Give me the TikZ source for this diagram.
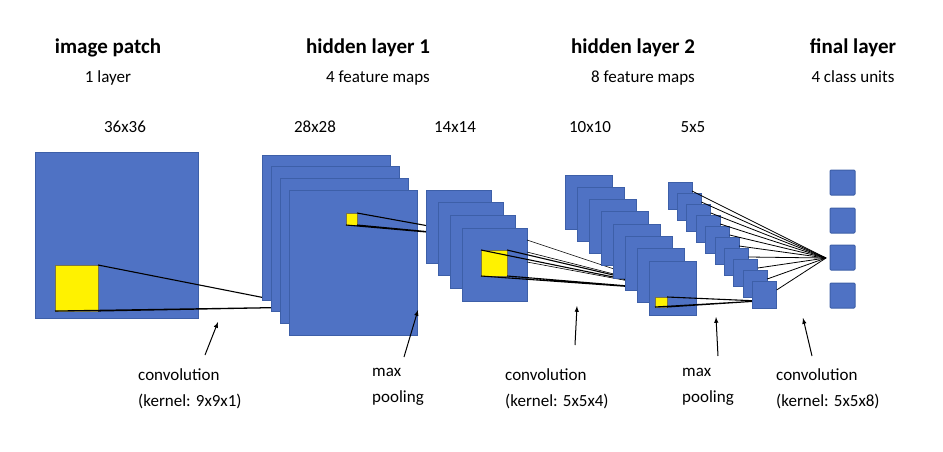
\documentclass[tikz,border=0pt]{standalone}
\usepackage{fontspec}
\setmainfont{Carlito}
\begin{document}
\begin{tikzpicture}[x=1pt,y=-1pt,
  fm/.style={fill=fmblue,draw=fmedge,line width=1pt},
  yl/.style={fill=yellow,draw=black!60!yellow,line width=0.8pt},
  cl/.style={line width=1.1pt,black},
  ttl/.style={font=\bfseries\fontsize{21}{24}\selectfont,anchor=base},
  txt/.style={font=\fontsize{17}{20}\selectfont,anchor=base},
  lbl/.style={font=\fontsize{17}{26}\selectfont,align=left,anchor=north west,inner sep=0pt},
  arr/.style={-latex,line width=1pt}]
\definecolor{fmblue}{HTML}{4F72C4}
\definecolor{fmedge}{HTML}{3D5FA8}
\useasboundingbox (0,0) rectangle (943,452);
% titles
\node[ttl] (t1) at (108,54) {image patch};
\node[ttl] (t2) at (368,54) {hidden layer 1};
\node[ttl] (t3) at (633,54) {hidden layer 2};
\node[ttl] (t4) at (853,54) {final layer};
\node[txt] (s1) at (108,83) {1 layer};
\node[txt] (s2) at (378,83) {4 feature maps};
\node[txt] (s3) at (643,83) {8 feature maps};
\node[txt] (s4) at (853,83) {4 class units};
\node[txt] (z1) at (125,132) {36x36};
\node[txt] (z2) at (315,132) {28x28};
\node[txt] (z3) at (455,132) {14x14};
\node[txt] (z4) at (590,132) {10x10};
\node[txt] (z5) at (693,132) {5x5};
% image patch
\draw[fm] (35,152) rectangle (198,318);
\draw[yl] (55,265) rectangle (98,311);
\coordinate (p1) at (311,307);
\draw[cl] (98,265) -- (p1) (98,311) -- (p1) (55,311) -- (p1);
% hidden 1: 28x28
\foreach \i in {0,...,3}
  \draw[fm] ({262+9*\i},{155+11.7*\i}) rectangle ++(128,145);
\draw[yl] (346,213) rectangle (357,225);
\coordinate (p2) at (495,238);
\draw[cl] (357,213) -- (p2) (357,225) -- (p2) (346,225) -- (p2);
% 14x14
\foreach \i in {0,...,3}
  \draw[fm] ({426+12*\i},{190+12.7*\i}) rectangle ++(65,73);
\draw[yl] (481,250) rectangle (507,276);
\coordinate (p3) at (677,290);
\draw[cl] (507,250) -- (p3) (507,276) -- (p3) (481,276) -- (p3) (481,250) -- (p3);
\draw[black,line width=0.6pt] (527,240) -- (p3) (527,252) -- (p3) (527,262) -- (p3);
% 10x10
\foreach \i in {0,...,7}
  \draw[fm] ({565+12.1*\i},{175+12.3*\i}) rectangle ++(47,54);
\draw[yl] (655,297) rectangle (667,307);
\coordinate (p4) at (759,301);
\draw[cl] (667,297) -- (p4) (667,307) -- (p4) (655,307) -- (p4);
% 5x5
\foreach \i in {0,...,9}
  \draw[fm] ({668+9.4*\i},{182+11*\i}) rectangle ++(24,27);
\coordinate (p5) at (826,258);
\foreach \i in {0,...,9}
  \draw[black,line width=0.8pt] ({692+9.4*\i},{191+11*\i}) -- (p5);
% final
\foreach \y/\n in {170/a,208/b,245/c,283/d}
  \draw[fm,rounded corners=1pt] (830,\y) rectangle ++(25,25);
% labels and arrows
\node[lbl] (l1) at (138,368) {convolution\\(kernel: 9x9x1)};
\node[lbl] (l2) at (372,368) {max\\pooling};
\node[lbl] (l3) at (505,368) {convolution\\(kernel: 5x5x4)};
\node[lbl] (l4) at (682,368) {max\\pooling};
\node[lbl] (l5) at (776,368) {convolution\\(kernel: 5x5x8)};
\coordinate (a1) at (218,322); \coordinate (b1) at (205,355);
\coordinate (a2) at (418,310); \coordinate (b2) at (404,357);
\coordinate (a3) at (577,306); \coordinate (b3) at (575,345);
\coordinate (a4) at (716,317); \coordinate (b4) at (718,356);
\coordinate (a5) at (803,318); \coordinate (b5) at (812,356);
\foreach \k in {1,...,5} \draw[arr] (b\k) -- (a\k);
\end{tikzpicture}
\end{document}
